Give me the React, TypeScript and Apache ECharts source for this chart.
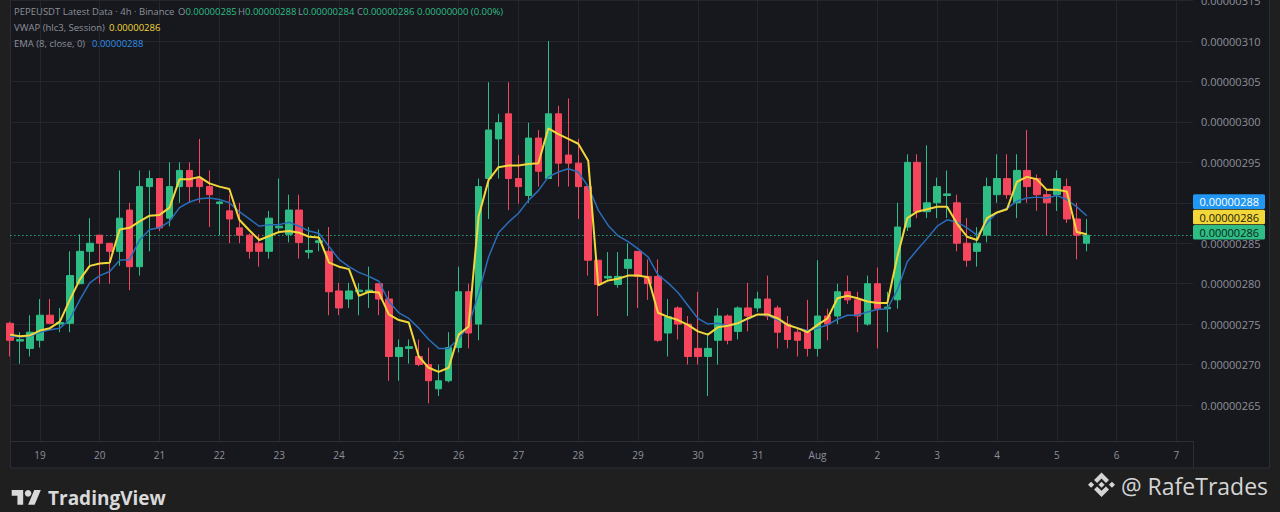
import React, { useEffect, useRef } from "react";
import * as echarts from "echarts";

// ---------- data (prices in units of 1e-8 USDT) ----------
const SYMBOL_TITLE = "PEPEUSDT Latest Data · 4h · Binance";
const VWAP_TITLE = "VWAP (hlc3, Session)";
const EMA_TITLE = "EMA (8, close, 0)";

const DAY_LABELS = ["19", "20", "21", "22", "23", "24", "25", "26", "27", "28", "29", "30", "31", "Aug", "2", "3", "4", "5", "6", "7"];
const FIRST_DAY_INDEX = 3; // candle index at which the first labelled day starts
const CANDLES_PER_DAY = 6;
const X_MAX = 118.66; // visible slots incl. empty future space
const Y_MIN = 260.55;
const Y_MAX = 315.07;
const PRICE_TICKS = [265, 270, 275, 280, 285, 290, 295, 300, 305, 310, 315];

const OPEN = [
  275.1, 272.9, 272.0, 273.0, 276.1, 275.0, 275.1, 280.0, 284.0, 286.0,
  285.0, 284.0, 289.1, 282.1, 292.0, 293.0, 288.1, 292.0, 294.0, 293.0,
  292.0, 289.9, 289.0, 286.9, 286.0, 285.0, 284.0, 286.9, 286.1, 289.1,
  283.9, 285.1, 284.0, 279.1, 278.1, 279.0, 279.0, 280.0, 278.1, 271.0,
  272.0, 271.0, 270.0, 267.0, 268.0, 272.1, 279.0, 275.0, 293.0, 297.9,
  301.0, 293.0, 290.9, 298.0, 293.0, 301.0, 295.9, 294.9, 292.0, 282.9,
  280.7, 279.9, 281.9, 284.0, 280.9, 280.9, 273.9, 277.0, 275.0, 272.0,
  271.0, 273.0, 276.0, 274.1, 277.0, 277.0, 278.1, 277.0, 275.0, 274.0,
  274.0, 272.0, 276.0, 276.0, 279.0, 278.0, 275.0, 280.0, 276.9, 278.0,
  287.0, 295.0, 288.9, 290.0, 290.9, 290.0, 285.0, 284.0, 286.0, 291.0,
  293.0, 290.0, 294.0, 293.0, 291.0, 291.0, 292.0, 288.0, 285.0,
];
const HIGH = [
  275.3, 274.0, 276.1, 278.1, 278.1, 277.0, 284.0, 286.1, 288.1, 286.0,
  285.0, 294.0, 290.0, 294.0, 294.0, 293.0, 295.0, 295.0, 295.0, 297.9,
  294.0, 290.2, 291.0, 290.0, 286.2, 286.1, 289.0, 293.0, 291.0, 291.0,
  287.0, 286.7, 287.0, 280.1, 280.1, 280.1, 282.1, 280.0, 279.1, 273.1,
  273.1, 273.1, 272.1, 270.0, 274.0, 282.1, 280.0, 293.0, 304.9, 301.0,
  304.9, 295.9, 299.9, 299.0, 310.0, 302.0, 302.9, 297.9, 292.0, 282.9,
  283.9, 283.9, 285.0, 284.0, 283.0, 283.0, 278.1, 277.2, 276.0, 279.0,
  273.9, 277.0, 276.2, 277.2, 280.1, 279.0, 281.0, 277.3, 276.0, 274.5,
  278.0, 282.9, 276.9, 280.0, 281.0, 279.0, 281.0, 282.0, 279.0, 290.0,
  296.0, 296.0, 297.1, 293.1, 294.0, 291.0, 288.1, 287.0, 293.1, 296.0,
  296.0, 296.0, 299.0, 293.5, 291.5, 294.0, 293.0, 290.0, 288.0,
];
const LOW = [
  271.0, 270.1, 271.0, 272.1, 275.0, 274.0, 274.0, 279.9, 282.3, 280.0,
  280.0, 282.2, 279.2, 281.0, 284.0, 286.5, 287.1, 290.0, 290.0, 290.0,
  287.0, 286.0, 285.0, 285.0, 283.1, 282.1, 283.1, 286.2, 285.1, 283.1,
  283.1, 284.0, 276.1, 276.1, 277.0, 276.1, 277.0, 276.1, 268.0, 268.0,
  270.1, 269.8, 265.2, 266.1, 267.8, 271.5, 272.0, 273.0, 288.0, 293.0,
  289.1, 289.9, 290.0, 292.0, 293.0, 292.0, 292.0, 288.0, 281.0, 276.0,
  280.5, 279.5, 276.0, 277.0, 278.0, 272.8, 271.0, 273.1, 270.0, 270.0,
  266.1, 270.0, 272.5, 273.1, 274.1, 276.5, 275.5, 272.0, 272.0, 271.0,
  271.0, 271.0, 273.0, 275.0, 277.5, 274.0, 274.8, 272.0, 274.0, 276.9,
  286.5, 288.1, 288.1, 288.1, 288.1, 284.0, 282.1, 282.1, 285.1, 290.0,
  290.5, 288.1, 290.0, 289.0, 286.0, 289.0, 287.5, 283.0, 284.0,
];
const CLOSE = [
  273.0, 273.1, 274.0, 276.1, 275.1, 275.2, 281.0, 284.0, 285.0, 285.0,
  284.0, 288.1, 282.1, 292.0, 293.0, 286.9, 292.0, 294.0, 292.0, 292.0,
  291.0, 290.1, 288.0, 286.0, 284.0, 284.0, 288.1, 287.1, 289.1, 285.1,
  284.1, 285.3, 279.0, 277.0, 279.1, 279.2, 279.2, 278.1, 271.0, 272.1,
  272.2, 270.0, 268.0, 268.0, 272.1, 279.0, 273.9, 292.0, 299.0, 299.9,
  293.0, 292.0, 298.0, 293.9, 301.0, 294.9, 294.9, 292.0, 282.9, 279.9,
  280.9, 280.9, 283.0, 280.9, 280.0, 273.0, 275.9, 275.0, 271.0, 271.0,
  272.0, 276.0, 273.0, 277.0, 276.0, 278.1, 276.0, 274.0, 273.1, 273.0,
  272.0, 276.0, 275.0, 279.0, 278.0, 276.0, 280.0, 276.9, 277.1, 287.0,
  295.0, 288.9, 290.0, 292.0, 291.1, 285.0, 282.9, 285.0, 292.0, 293.0,
  291.0, 294.0, 292.0, 291.0, 290.0, 293.0, 288.0, 286.0, 286.0,
];
const VWAP = [
  273.7, 273.5, 273.6, 274.2, 274.5, 275.3, 278.0, 280.5, 282.2, 282.5,
  282.6, 286.7, 286.9, 287.7, 288.4, 288.5, 289.4, 292.9, 292.9, 293.2,
  292.4, 292.0, 291.7, 287.9, 286.6, 285.4, 285.9, 286.4, 286.5, 286.3,
  285.8, 285.7, 282.6, 282.1, 281.8, 278.5, 279.0, 278.9, 276.2, 275.5,
  275.2, 271.0, 269.6, 269.1, 269.6, 273.7, 274.7, 288.3, 292.8, 294.4,
  294.6, 294.6, 294.8, 294.9, 299.2, 298.5, 297.9, 297.3, 295.2, 279.8,
  280.4, 280.6, 281.0, 281.0, 280.8, 276.4, 275.9, 275.5, 274.9, 274.1,
  273.7, 274.6, 274.8, 275.1, 275.7, 276.2, 276.2, 275.7, 274.9, 274.5,
  274.0, 274.9, 275.7, 278.2, 278.5, 278.2, 277.8, 277.6, 277.6, 283.3,
  288.1, 288.9, 289.2, 289.5, 289.5, 287.4, 285.8, 285.4, 288.1, 288.8,
  289.2, 292.6, 293.2, 292.9, 291.6, 291.6, 291.4, 286.4, 286.1,
];
const EMA = [
  273.5, 273.4, 273.5, 274.0, 274.3, 274.5, 275.6, 278.0, 280.1, 281.0,
  281.5, 282.9, 283.0, 285.4, 286.7, 286.9, 287.7, 289.4, 290.1, 290.5,
  290.6, 290.4, 290.0, 288.9, 288.0, 287.1, 287.3, 287.3, 287.6, 287.1,
  286.5, 286.2, 284.6, 283.0, 282.1, 281.4, 280.9, 280.3, 277.8, 276.4,
  275.7, 274.5, 273.1, 272.0, 272.0, 273.2, 274.8, 278.8, 283.3, 286.3,
  287.6, 288.7, 290.3, 291.5, 293.2, 293.8, 294.2, 293.8, 292.0, 289.1,
  287.2, 285.9, 285.2, 284.3, 283.3, 281.1, 280.1, 278.9, 277.3, 275.7,
  275.0, 275.1, 274.8, 275.1, 275.6, 276.2, 276.1, 275.5, 274.9, 274.5,
  274.2, 274.5, 274.9, 275.6, 276.1, 276.1, 276.5, 276.8, 276.9, 279.2,
  282.7, 284.2, 285.6, 287.1, 287.9, 287.6, 286.9, 286.0, 287.5, 288.8,
  289.3, 290.2, 290.6, 290.7, 290.6, 290.9, 290.4, 289.5, 288.4,
];

// ---------- styles ----------
const FONT = "'Open Sans', 'Noto Sans', sans-serif";
const OUTER_BG = "#1f1f1f";
const PANEL_BG = "#17181e";
const BORDER = "#2c2e35";
const GRID = "#24262e";
const TEXT = "#8d9099";
const UP = "#2ebd85";
const DOWN = "#f6465d";
const VWAP_C = "#f2d73b";
const EMA_C = "#2a6db8";
const EMA_TEXT = "#2f8fe6";
const EMA_LABEL = "#2196f3";

const fmt = (v: number) => (v / 1e8).toFixed(8);

echarts.graphic.registerShape(
  "tvlogo",
  echarts.graphic.extendPath("M14 22H7V11H0V4h14v18zM28 22h-8l7.5-18h8L28 22z", {})
);
echarts.graphic.registerShape(
  "bnblogo",
  echarts.graphic.extendPath(
    "M12 2L18.1 8.1L15.6 10.6L12 7L8.4 10.6L5.9 8.1ZM12 22L18.1 15.9L15.6 13.4L12 17L8.4 13.4L5.9 15.9ZM12 9.5L14.5 12L12 14.5L9.5 12ZM3.5 9.5L6 12L3.5 14.5L1 12ZM20.5 9.5L23 12L20.5 14.5L18 12Z",
    {}
  )
);

export default function App() {
  const ref = useRef<HTMLDivElement>(null);

  useEffect(() => {
    document.body.style.margin = "0";
    document.body.style.background = OUTER_BG;
    if (!ref.current) return;
    const chart = echarts.init(ref.current, undefined, { renderer: "svg" });

    const n = CLOSE.length;
    const last = n - 1;
    const candleData = OPEN.map((o, i) => [i, o, CLOSE[i], LOW[i], HIGH[i]]);
    const dayIdx = DAY_LABELS.map((_, k) => FIRST_DAY_INDEX + k * CANDLES_PER_DAY);

    chart.setOption({
      animation: false,
      backgroundColor: OUTER_BG,
      grid: { left: 10, right: 87, top: 0, bottom: 71, containLabel: false, outerBoundsMode: "none" },
      xAxis: {
        type: "value",
        min: 0,
        max: X_MAX,
        axisLine: { show: true, lineStyle: { color: BORDER, width: 1 } },
        axisTick: { show: false },
        splitLine: { show: false },
        axisLabel: {
          customValues: dayIdx,
          formatter: (v: number) => {
            const k = Math.round((v - FIRST_DAY_INDEX) / CANDLES_PER_DAY);
            return DAY_LABELS[k] ?? "";
          },
          color: TEXT,
          fontSize: 10,
          fontFamily: FONT,
          margin: 9,
        },
      },
      yAxis: {
        type: "value",
        position: "right",
        min: Y_MIN,
        max: Y_MAX,
        axisLine: { show: true, lineStyle: { color: BORDER, width: 1 } },
        axisTick: { show: false },
        splitLine: { show: false },
        axisLabel: {
          customValues: PRICE_TICKS,
          formatter: (v: number) => fmt(v),
          color: TEXT,
          fontSize: 11,
          fontFamily: FONT,
          margin: 8,
        },
      },
      series: [
        {
          type: "line",
          data: [],
          silent: true,
          markLine: {
            silent: true,
            z: 1,
            symbol: ["none", "none"],
            label: { show: false },
            emphasis: { disabled: true },
            lineStyle: { color: GRID, width: 1, type: "solid" },
            data: [
              ...PRICE_TICKS.map((v) => ({ yAxis: v })),
              ...dayIdx.map((x) => ({ xAxis: x })),
            ],
          },
        },
        {
          type: "candlestick",
          data: candleData,
          barWidth: 7,
          z: 2,
          silent: true,
          itemStyle: { color: UP, color0: DOWN, borderColor: UP, borderColor0: DOWN, borderWidth: 1 },
          markLine: {
            silent: true,
            z: 1,
            symbol: ["none", "none"],
            label: { show: false },
            emphasis: { disabled: true },
            lineStyle: { color: UP, width: 1, type: [1.5, 2.5], opacity: 0.85 },
            data: [{ yAxis: CLOSE[last] }],
          },
        },
        {
          type: "line",
          data: EMA.map((v, i) => [i, v]),
          showSymbol: false,
          symbol: "none",
          silent: true,
          z: 3,
          lineStyle: { color: EMA_C, width: 1.5 },
        },
        {
          type: "line",
          data: VWAP.map((v, i) => [i, v]),
          showSymbol: false,
          symbol: "none",
          silent: true,
          z: 4,
          lineStyle: { color: VWAP_C, width: 2 },
        },
      ],
    });

    // price labels on the price axis, stacked to avoid overlap
    const labels = [
      { id: "lblClose", value: CLOSE[last], bg: UP, fg: "#0d1f17" },
      { id: "lblVwap", value: VWAP[last], bg: VWAP_C, fg: "#1c1a0a" },
      { id: "lblEma", value: EMA[last], bg: EMA_LABEL, fg: "#ffffff" },
    ];
    const H = 15.3;
    let prevY: number | null = null;
    const labelEls: any[] = [];
    labels.forEach((l, idx) => {
      let y = chart.convertToPixel({ yAxisIndex: 0 }, l.value) as number;
      if (idx === 0) y -= 3;
      if (prevY !== null && Math.abs(y - prevY) < H) y = prevY - H;
      prevY = y;
      labelEls.push({
        type: "rect",
        id: l.id + "Box",
        z: 10,
        shape: { x: 1193, y: y - 7.2, width: 72, height: 14.6, r: 1.5 },
        style: { fill: l.bg },
      });
      labelEls.push({
        type: "text",
        id: l.id + "Txt",
        z: 11,
        x: 1199.5,
        y: y + 0.3,
        style: {
          text: fmt(l.value),
          fill: l.fg,
          fontSize: 11,
          fontFamily: FONT,
          align: "left",
          verticalAlign: "middle",
        },
      });
    });

    const richStyles = {
      g: { fill: TEXT, fontSize: 9.5, fontFamily: FONT },
      v: { fill: UP, fontSize: 9.5, fontFamily: FONT },
      y: { fill: VWAP_C, fontSize: 9.5, fontFamily: FONT },
      b: { fill: EMA_TEXT, fontSize: 9.5, fontFamily: FONT },
    };
    const legendText = (id: string, x: number, y: number, text: string) => ({
      type: "text",
      id,
      x,
      y,
      z: 12,
      style: { text, rich: richStyles, fontSize: 9.5, fontFamily: FONT, align: "left", verticalAlign: "middle" },
    });
    const change = CLOSE[last] - CLOSE[last - 1];
    const changePct = (change / CLOSE[last - 1]) * 100;

    chart.setOption({
      graphic: {
        elements: [
          {
            type: "rect",
            id: "panel",
            z: -10,
            silent: true,
            shape: { x: 10.5, y: -2, width: 1259, height: 470 },
            style: { fill: PANEL_BG, stroke: BORDER, lineWidth: 1 },
          },
          {
            type: "line",
            id: "axisSep",
            z: 5,
            silent: true,
            shape: { x1: 1193.5, y1: 441, x2: 1193.5, y2: 468 },
            style: { stroke: BORDER, lineWidth: 1 },
          },
          legendText("lg1", 14, 11.7, `{g|${SYMBOL_TITLE}}`),
          legendText("lgO", 178, 11.7, `{g|O}{v|${fmt(OPEN[last])}}`),
          legendText("lgH", 238, 11.7, `{g|H}{v|${fmt(HIGH[last])}}`),
          legendText("lgL", 298, 11.7, `{g|L}{v|${fmt(LOW[last])}}`),
          legendText("lgC", 357, 11.7, `{g|C}{v|${fmt(CLOSE[last])}}`),
          legendText("lgChg", 417, 11.7, `{v|${fmt(change)} (${changePct.toFixed(2)}%)}`),
          legendText("lg2", 14, 27.3, `{g|${VWAP_TITLE}}`),
          legendText("lg2v", 109, 27.3, `{y|${fmt(VWAP[last])}}`),
          legendText("lg3", 14, 43.3, `{g|${EMA_TITLE}}`),
          legendText("lg3v", 92, 43.3, `{b|${fmt(EMA[last])}}`),
          ...labelEls,
          {
            type: "tvlogo",
            id: "tvIcon",
            silent: true,
            x: 11.7,
            y: 486.8,
            scaleX: 0.82,
            scaleY: 0.82,
            style: { fill: "#d9d9d9" },
          },
          {
            type: "circle",
            id: "tvDot",
            silent: true,
            shape: { cx: 11.7 + 20 * 0.82, cy: 486.8 + 8 * 0.82, r: 3.3 },
            style: { fill: "#d9d9d9" },
          },
          {
            type: "text",
            id: "tvText",
            silent: true,
            x: 48,
            y: 497.5,
            style: {
              text: "TradingView",
              fill: "#d9d9d9",
              fontSize: 19,
              fontWeight: "bold",
              fontFamily: FONT,
              align: "left",
              verticalAlign: "middle",
            },
          },
          {
            type: "bnblogo",
            id: "bnbIcon",
            silent: true,
            x: 1086.8,
            y: 470,
            scaleX: 1.227,
            scaleY: 1.227,
            style: { fill: "#d4d4d4" },
          },
          {
            type: "text",
            id: "rafe",
            silent: true,
            x: 1121,
            y: 486,
            style: {
              text: "@ RafeTrades",
              fill: "#d4d4d4",
              fontSize: 23,
              fontFamily: FONT,
              align: "left",
              verticalAlign: "middle",
            },
          },
        ],
      },
    });

    return () => chart.dispose();
  }, []);

  return <div ref={ref} style={{ width: 1280, height: 512 }} />;
}
